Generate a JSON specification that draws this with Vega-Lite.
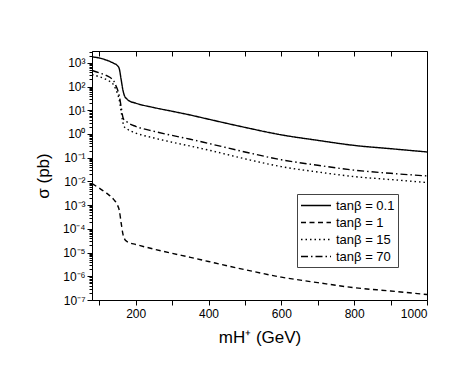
{
  "$schema": "https://vega.github.io/schema/vega-lite/v6.json",
  "width": 335,
  "height": 249,
  "autosize": "none",
  "padding": {"left": 92, "top": 51, "right": 47, "bottom": 81},
  "background": "white",
  "config": {
    "view": {"stroke": "black", "strokeWidth": 1},
    "axis": {
      "domainColor": "black", "tickColor": "black", "labelColor": "black", "titleColor": "black",
      "labelFont": "Liberation Sans", "titleFont": "Liberation Sans",
      "labelFontSize": 12, "titleFontSize": 17, "titleFontWeight": "normal",
      "grid": false
    },
    "legend": {
      "labelFont": "Liberation Sans", "labelFontSize": 13, "labelColor": "black"
    }
  },
  "data": {"values": [
    {"tb":"tanβ = 0.1","m":80,"s":1800},{"tb":"tanβ = 0.1","m":100,"s":1600},{"tb":"tanβ = 0.1","m":120,"s":1300},{"tb":"tanβ = 0.1","m":140,"s":950},{"tb":"tanβ = 0.1","m":150,"s":760},{"tb":"tanβ = 0.1","m":155,"s":560},{"tb":"tanβ = 0.1","m":160,"s":200},{"tb":"tanβ = 0.1","m":165,"s":70},{"tb":"tanβ = 0.1","m":170,"s":38},{"tb":"tanβ = 0.1","m":175,"s":31},{"tb":"tanβ = 0.1","m":180,"s":26},{"tb":"tanβ = 0.1","m":200,"s":20},{"tb":"tanβ = 0.1","m":250,"s":13},{"tb":"tanβ = 0.1","m":300,"s":9.1},{"tb":"tanβ = 0.1","m":350,"s":6.3},{"tb":"tanβ = 0.1","m":400,"s":4.2},{"tb":"tanβ = 0.1","m":500,"s":1.9},{"tb":"tanβ = 0.1","m":600,"s":0.92},{"tb":"tanβ = 0.1","m":700,"s":0.54},{"tb":"tanβ = 0.1","m":800,"s":0.33},{"tb":"tanβ = 0.1","m":900,"s":0.24},{"tb":"tanβ = 0.1","m":1000,"s":0.175},
    {"tb":"tanβ = 1","m":80,"s":0.008},{"tb":"tanβ = 1","m":100,"s":0.0052},{"tb":"tanβ = 1","m":120,"s":0.0032},{"tb":"tanβ = 1","m":140,"s":0.0017},{"tb":"tanβ = 1","m":150,"s":0.001},{"tb":"tanβ = 1","m":155,"s":0.0006},{"tb":"tanβ = 1","m":160,"s":0.00018},{"tb":"tanβ = 1","m":165,"s":0.00006},{"tb":"tanβ = 1","m":170,"s":0.000036},{"tb":"tanβ = 1","m":175,"s":0.00003},{"tb":"tanβ = 1","m":180,"s":0.000027},{"tb":"tanβ = 1","m":200,"s":0.000022},{"tb":"tanβ = 1","m":250,"s":0.000014},{"tb":"tanβ = 1","m":300,"s":0.0000093},{"tb":"tanβ = 1","m":350,"s":0.0000063},{"tb":"tanβ = 1","m":400,"s":0.0000042},{"tb":"tanβ = 1","m":500,"s":0.0000019},{"tb":"tanβ = 1","m":600,"s":0.00000092},{"tb":"tanβ = 1","m":700,"s":0.00000054},{"tb":"tanβ = 1","m":800,"s":0.00000033},{"tb":"tanβ = 1","m":900,"s":0.00000024},{"tb":"tanβ = 1","m":1000,"s":0.00000017},
    {"tb":"tanβ = 15","m":80,"s":320},{"tb":"tanβ = 15","m":100,"s":260},{"tb":"tanβ = 15","m":120,"s":195},{"tb":"tanβ = 15","m":140,"s":115},{"tb":"tanβ = 15","m":145,"s":78},{"tb":"tanβ = 15","m":150,"s":50},{"tb":"tanβ = 15","m":155,"s":27},{"tb":"tanβ = 15","m":160,"s":9},{"tb":"tanβ = 15","m":165,"s":3},{"tb":"tanβ = 15","m":170,"s":1.9},{"tb":"tanβ = 15","m":175,"s":1.7},{"tb":"tanβ = 15","m":180,"s":1.5},{"tb":"tanβ = 15","m":200,"s":1.1},{"tb":"tanβ = 15","m":250,"s":0.68},{"tb":"tanβ = 15","m":300,"s":0.45},{"tb":"tanβ = 15","m":350,"s":0.31},{"tb":"tanβ = 15","m":400,"s":0.21},{"tb":"tanβ = 15","m":500,"s":0.09},{"tb":"tanβ = 15","m":600,"s":0.042},{"tb":"tanβ = 15","m":700,"s":0.025},{"tb":"tanβ = 15","m":800,"s":0.016},{"tb":"tanβ = 15","m":900,"s":0.012},{"tb":"tanβ = 15","m":1000,"s":0.009},
    {"tb":"tanβ = 70","m":80,"s":475},{"tb":"tanβ = 70","m":100,"s":380},{"tb":"tanβ = 70","m":120,"s":290},{"tb":"tanβ = 70","m":140,"s":170},{"tb":"tanβ = 70","m":145,"s":115},{"tb":"tanβ = 70","m":150,"s":75},{"tb":"tanβ = 70","m":155,"s":40},{"tb":"tanβ = 70","m":160,"s":14},{"tb":"tanβ = 70","m":165,"s":5},{"tb":"tanβ = 70","m":170,"s":3.6},{"tb":"tanβ = 70","m":175,"s":3.3},{"tb":"tanβ = 70","m":180,"s":2.9},{"tb":"tanβ = 70","m":200,"s":2.1},{"tb":"tanβ = 70","m":250,"s":1.3},{"tb":"tanβ = 70","m":300,"s":0.87},{"tb":"tanβ = 70","m":350,"s":0.6},{"tb":"tanβ = 70","m":400,"s":0.4},{"tb":"tanβ = 70","m":500,"s":0.175},{"tb":"tanβ = 70","m":600,"s":0.082},{"tb":"tanβ = 70","m":700,"s":0.048},{"tb":"tanβ = 70","m":800,"s":0.03},{"tb":"tanβ = 70","m":900,"s":0.022},{"tb":"tanβ = 70","m":1000,"s":0.017}
  ]},
  "layer": [
    {
      "mark": {"type": "line", "color": "black", "strokeWidth": 1.4, "interpolate": "monotone", "clip": true},
      "encoding": {
        "x": {"field": "m", "type": "quantitative",
          "scale": {"domain": [80, 1000], "nice": false, "zero": false},
          "axis": {"orient": "bottom", "title": "mH⁺ (GeV)", "titlePadding": 10,
            "values": [100,200,300,400,500,600,700,800,900,1000],
            "labelExpr": "datum.value % 200 == 0 ? datum.label : ''",
            "tickSize": 5, "labelPadding": 3, "format": "d"}},
        "y": {"field": "s", "type": "quantitative",
          "scale": {"type": "log", "domain": [1e-7, 3162], "nice": false},
          "axis": {"orient": "left", "title": "σ (pb)", "titlePadding": 10,
            "values": [1e-7,1e-6,1e-5,1e-4,1e-3,1e-2,1e-1,1,10,100,1000],
            "tickSize": 5, "labelPadding": 2,
            "labelExpr": "datum.value >= 500 ? '10³' : datum.value >= 50 ? '10²' : datum.value >= 5 ? '10¹' : datum.value >= 0.5 ? '10⁰' : datum.value >= 0.05 ? '10⁻¹' : datum.value >= 0.005 ? '10⁻²' : datum.value >= 0.0005 ? '10⁻³' : datum.value >= 0.00005 ? '10⁻⁴' : datum.value >= 0.000005 ? '10⁻⁵' : datum.value >= 0.0000005 ? '10⁻⁶' : '10⁻⁷'"}},
        "strokeDash": {"field": "tb", "type": "nominal",
          "scale": {"domain": ["tanβ = 0.1","tanβ = 1","tanβ = 15","tanβ = 70"],
            "range": [[1,0],[5,3.5],[1.5,3],[7,3,1.5,3]]},
          "legend": {"title": null, "orient": "none", "legendX": 205, "legendY": 143,
            "symbolType": "M-1,0H3", "symbolSize": 225, "symbolStrokeWidth": 1.3, "symbolStrokeColor": "black",
            "strokeColor": "#444", "padding": 3, "rowPadding": 1, "labelOffset": 19}}
      }
    },
    {
      "mark": {"type": "line", "opacity": 0},
      "encoding": {
        "x": {"field": "m", "type": "quantitative",
          "axis": {"orient": "top", "title": null, "labels": false, "domain": false,
            "values": [100,200,300,400,500,600,700,800,900,1000], "tickSize": -5}},
        "y": {"field": "s", "type": "quantitative",
          "axis": {"orient": "left", "title": null, "labels": false, "domain": false, "tickSize": 3,
            "values": [2e-7,3e-7,4e-7,5e-7,6e-7,7e-7,8e-7,9e-7,2e-6,3e-6,4e-6,5e-6,6e-6,7e-6,8e-6,9e-6,2e-5,3e-5,4e-5,5e-5,6e-5,7e-5,8e-5,9e-5,2e-4,3e-4,4e-4,5e-4,6e-4,7e-4,8e-4,9e-4,0.002,0.003,0.004,0.005,0.006,0.007,0.008,0.009,0.02,0.03,0.04,0.05,0.06,0.07,0.08,0.09,0.2,0.3,0.4,0.5,0.6,0.7,0.8,0.9,2,3,4,5,6,7,8,9,20,30,40,50,60,70,80,90,200,300,400,500,600,700,800,900,2000,3000]}}
      }
    }
  ],
  "resolve": {"axis": {"x": "independent", "y": "independent"}}
}
